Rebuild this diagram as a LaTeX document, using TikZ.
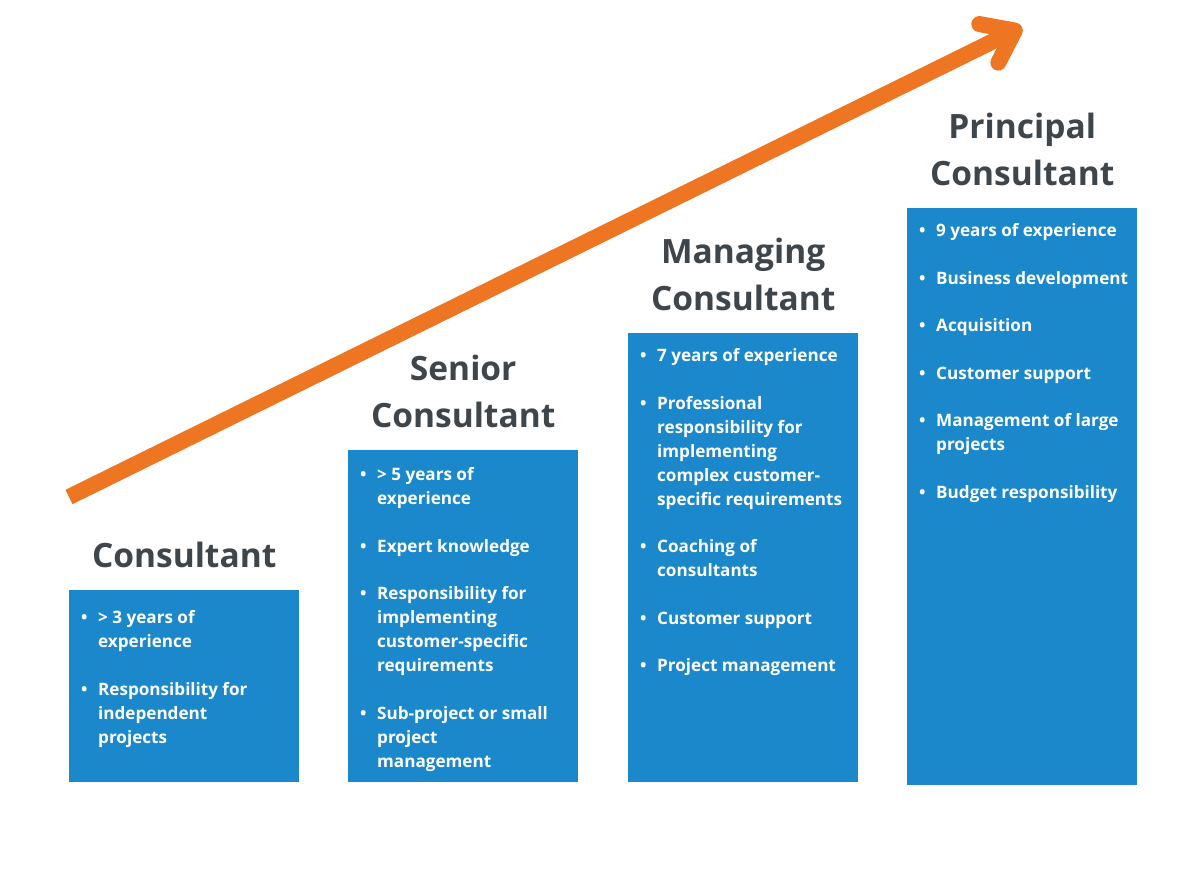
\documentclass[tikz,border=0pt]{standalone}
\usepackage{fontspec}
\setmainfont{Open Sans}
\usetikzlibrary{arrows.meta,positioning}
\definecolor{cpblue}{HTML}{1A88CA}
\definecolor{cpgray}{HTML}{3E464B}
\definecolor{cporange}{HTML}{EE7521}
\newcommand{\lvlbullet}{\makebox[17pt][l]{\textbullet}}
\newcommand{\lvlindent}{\makebox[17pt]{}}

\begin{document}
\begin{tikzpicture}[x=1pt, y=1pt,
  level/.style={fill=cpblue, draw=none, anchor=south west, inner sep=0pt, minimum width=230pt},
  title/.style={font=\fontsize{33.5}{47}\selectfont\bfseries, text=cpgray, align=center, inner sep=0pt},
  duties/.style={font=\fontsize{17.1}{24}\selectfont\bfseries, text=white, align=left,
                 anchor=north west, inner sep=0pt},
  growth/.style={line width=16pt, draw=cporange, -{Straight Barb[round, length=29pt, width=43pt]}},
]
  \useasboundingbox (0,0) rectangle (1200,875);

  % Arrow -------------------------------------------------------------------
  \coordinate (arrowstart) at (69,378);
  \coordinate (arrowtip) at (1022,848);
  \draw[growth] (arrowstart) -- (arrowtip);

  % Consultant --------------------------------------------------------------
  \node[level, minimum height=192pt] (consbox) at (69,93) {};
  \node[title, above=22pt of consbox] (constitle) {Consultant};
  \node[duties] (constext) at ([shift={(12pt,-21pt)}]consbox.north west)
    {\lvlbullet > 3 years of\\ \lvlindent experience\\[23.5pt]
     \lvlbullet Responsibility for\\ \lvlindent independent\\ \lvlindent projects};

  % Senior ------------------------------------------------------------------
  \node[level, minimum height=332pt] (seniorbox) at (348,93) {};
  \node[title, above=22pt of seniorbox] (seniortitle) {Senior\\Consultant};
  \node[duties] (seniortext) at ([shift={(12pt,-18pt)}]seniorbox.north west)
    {\lvlbullet > 5 years of\\ \lvlindent experience\\[23.5pt]
     \lvlbullet Expert knowledge\\[23.5pt]
     \lvlbullet Responsibility for\\ \lvlindent implementing\\ \lvlindent customer-specific\\ \lvlindent requirements\\[23.5pt]
     \lvlbullet Sub-project or small\\ \lvlindent project\\ \lvlindent management};

  % Managing ----------------------------------------------------------------
  \node[level, minimum height=449pt] (managebox) at (628,93) {};
  \node[title, above=22pt of managebox] (managetitle) {Managing\\Consultant};
  \node[duties] (managetext) at ([shift={(12pt,-16pt)}]managebox.north west)
    {\lvlbullet 7 years of experience\\[23.5pt]
     \lvlbullet Professional\\ \lvlindent responsibility for\\ \lvlindent implementing\\ \lvlindent complex customer-\\ \lvlindent specific requirements\\[23.5pt]
     \lvlbullet Coaching of\\ \lvlindent consultants\\[23.5pt]
     \lvlbullet Customer support\\[23.5pt]
     \lvlbullet Project management};

  % Principal ---------------------------------------------------------------
  \node[level, minimum height=577pt] (principalbox) at (907,90) {};
  \node[title, above=22pt of principalbox] (principaltitle) {Principal\\Consultant};
  \node[duties] (principaltext) at ([shift={(12pt,-16pt)}]principalbox.north west)
    {\lvlbullet 9 years of experience\\[23.5pt]
     \lvlbullet Business development\\[23.5pt]
     \lvlbullet Acquisition\\[23.5pt]
     \lvlbullet Customer support\\[23.5pt]
     \lvlbullet Management of large\\ \lvlindent projects\\[23.5pt]
     \lvlbullet Budget responsibility};
\end{tikzpicture}
\end{document}
